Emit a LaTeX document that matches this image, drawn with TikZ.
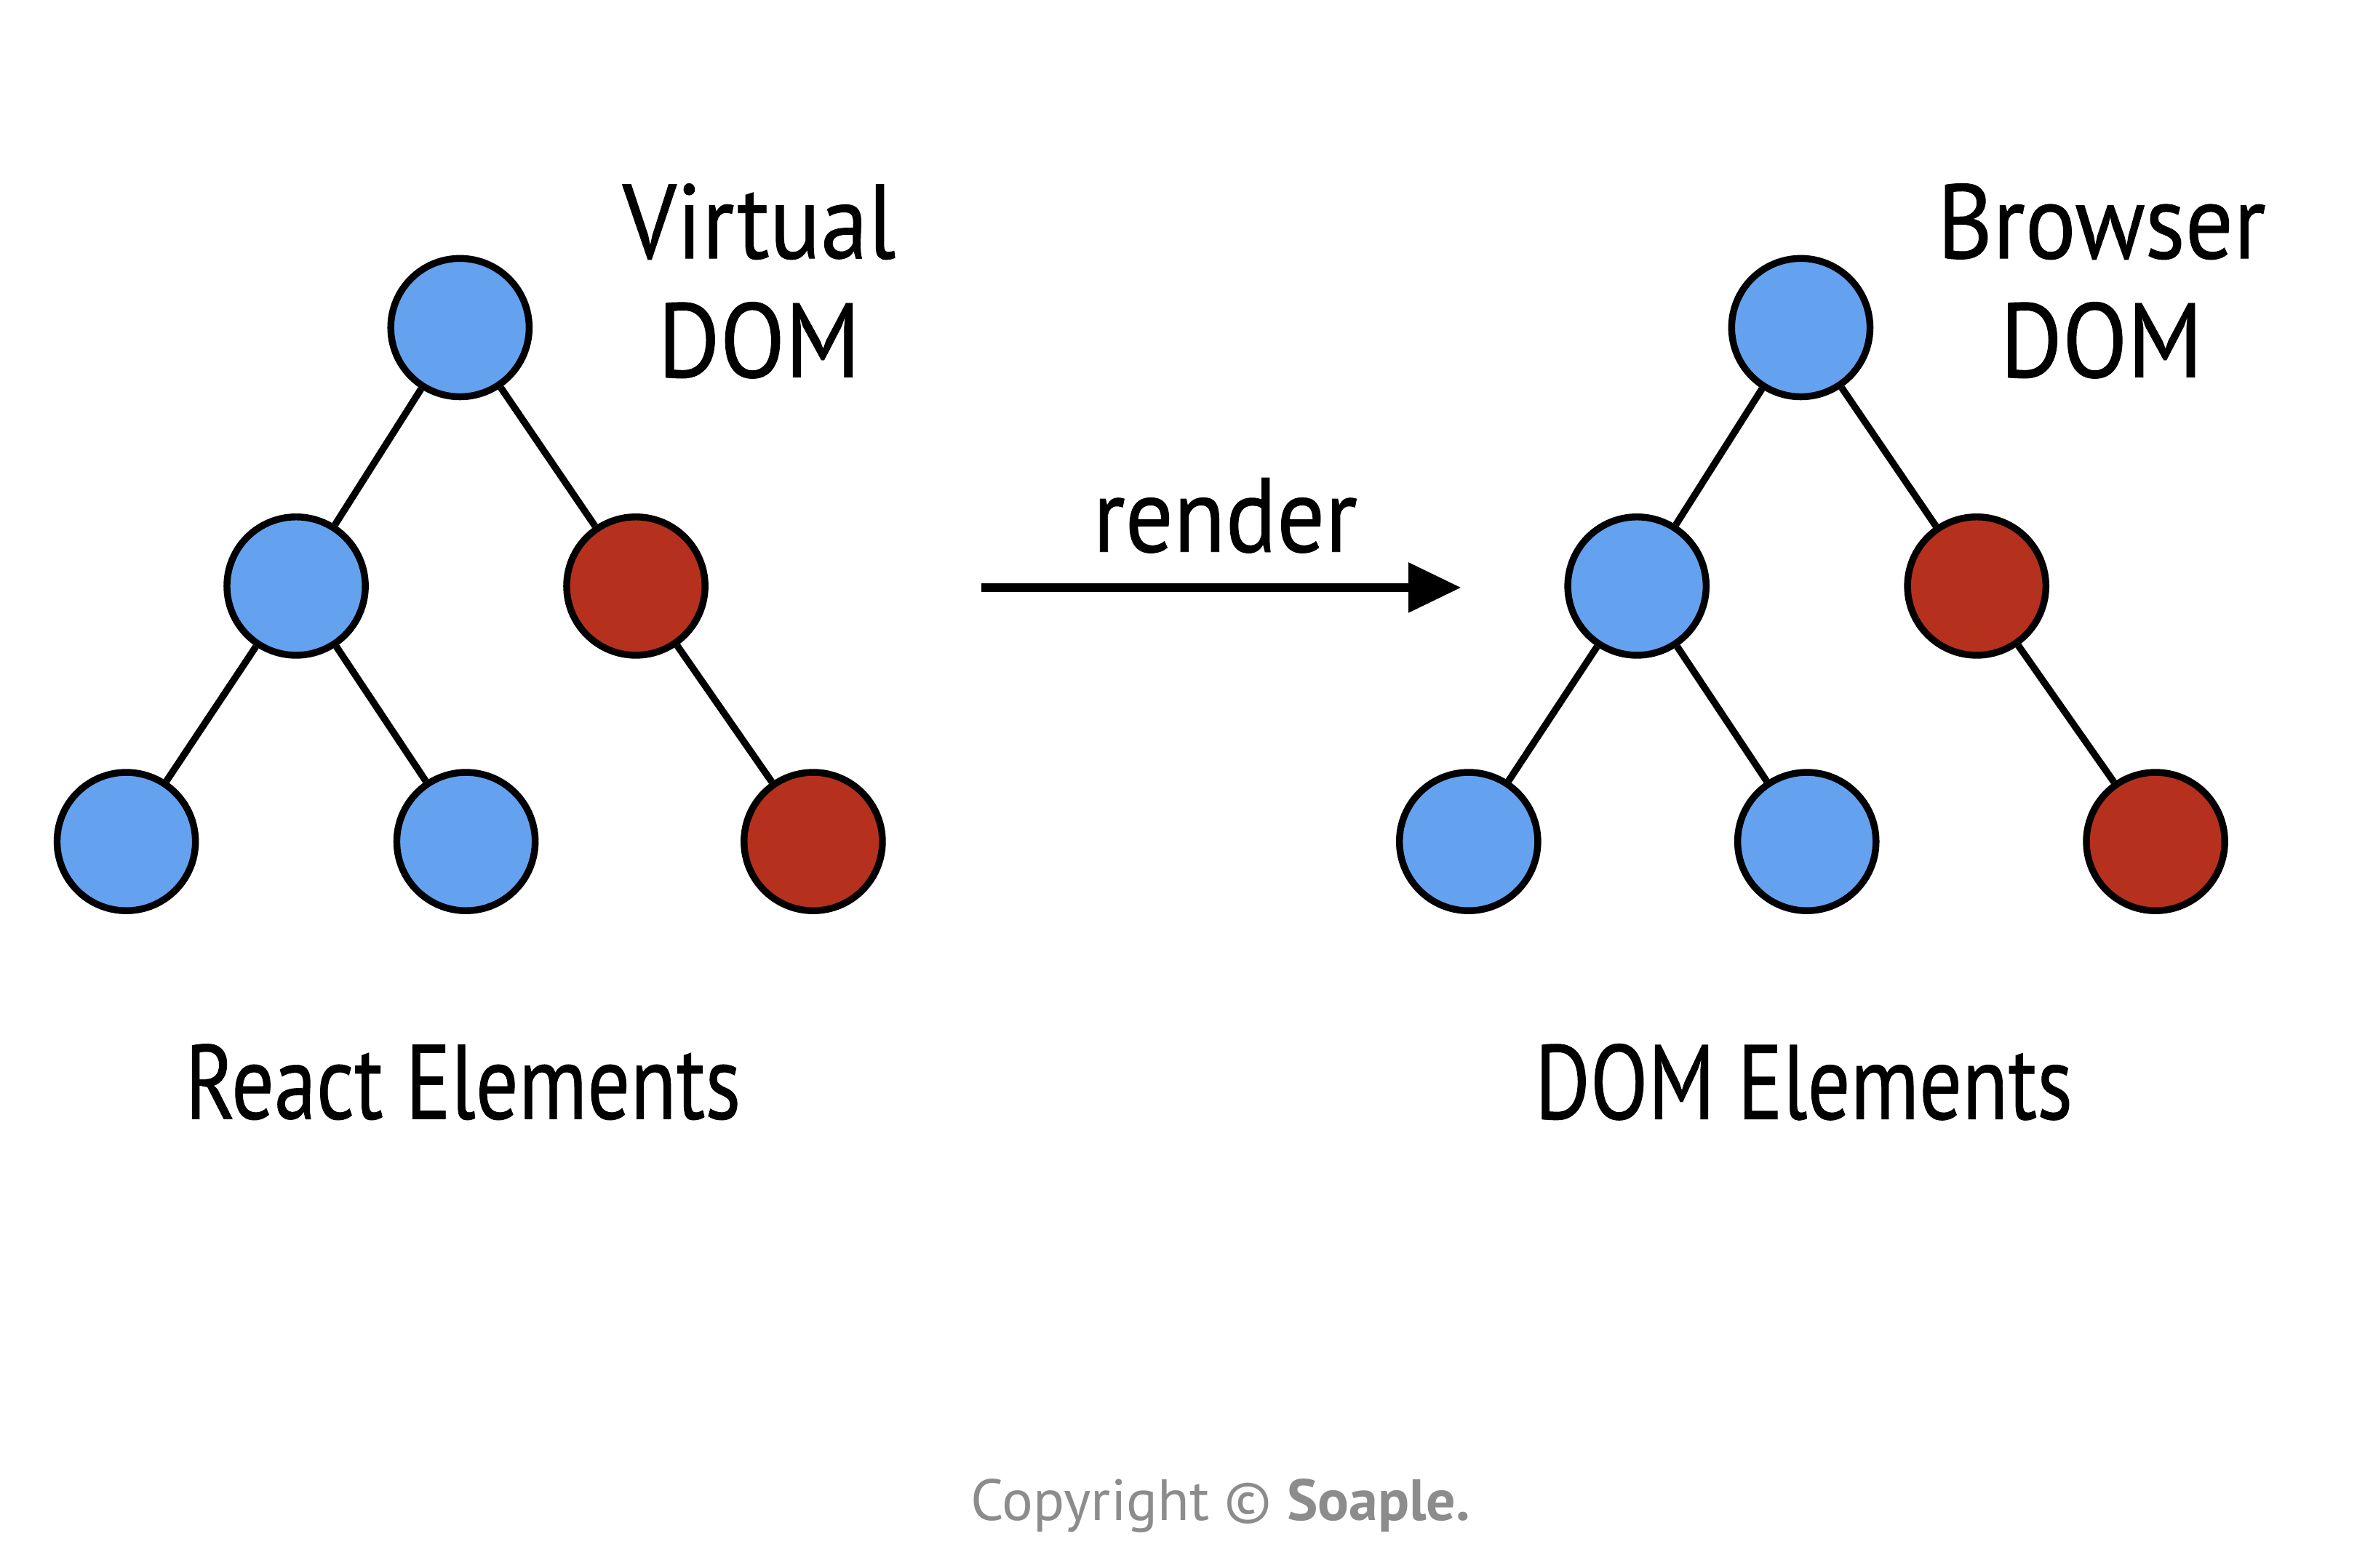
\documentclass[tikz,border=0pt]{standalone}
\usepackage{fontspec}
\setmainfont{PT Sans}
\newfontfamily\titlefont[FakeStretch=0.9, FakeBold=0.6]{PT Sans}
\newfontfamily\labelfont[FakeStretch=0.8, FakeBold=0.6]{PT Sans}
\usetikzlibrary{arrows.meta}
\usetikzlibrary{positioning}
\definecolor{elblue}{HTML}{64A2F0}
\definecolor{elred}{HTML}{B5311E}
\tikzset{
  elem/.style={circle, draw=black, line width=1.3pt, minimum size=0.92cm, inner sep=0pt},
  blue elem/.style={elem, fill=elblue},
  red elem/.style={elem, fill=elred},
  edge/.style={line width=1.3pt},
  title/.style={font=\titlefont\fontsize{20}{22.5}\selectfont, align=center},
  label/.style={font=\labelfont\fontsize{20}{22.5}\selectfont}
}
\begin{document}
\begin{tikzpicture}[x=0.01cm, y=-0.01cm]
  \useasboundingbox (0,0) rectangle (1568,1043);
  \fill[white] (0,0) rectangle (1568,1043);

  % left tree
  \node [blue elem] (vroot) at (306,218) {};
  \node [blue elem] (vl) at (197,390) {};
  \node [red elem] (vr) at (423,390) {};
  \node [blue elem] (vll) at (84,560) {};
  \node [blue elem] (vlr) at (310,560) {};
  \node [red elem] (vrr) at (541,560) {};
  \draw [edge] (vroot) -- (vl);
  \draw [edge] (vroot) -- (vr);
  \draw [edge] (vl) -- (vll);
  \draw [edge] (vl) -- (vlr);
  \draw [edge] (vr) -- (vrr);
  \node [title] (vtitle) at (505,187) {Virtual\\DOM};
  \node [label] (vlabel) at (308,720) {React Elements};

  % right tree
  \node [blue elem] (broot) at (1198,218) {};
  \node [blue elem] (bl) at (1089,390) {};
  \node [red elem] (br) at (1315,390) {};
  \node [blue elem] (bll) at (977,560) {};
  \node [blue elem] (blr) at (1202,560) {};
  \node [red elem] (brr) at (1434,560) {};
  \draw [edge] (broot) -- (bl);
  \draw [edge] (broot) -- (br);
  \draw [edge] (bl) -- (bll);
  \draw [edge] (bl) -- (blr);
  \draw [edge] (br) -- (brr);
  \node [title] (btitle) at (1398,187) {Browser\\DOM};
  \node [label] (blabel) at (1200,720) {DOM Elements};

  % render arrow
  \coordinate (from) at (653,391);
  \coordinate (to) at (972,391);
  \draw [-{Triangle[length=0.35cm,width=0.32cm]}, line width=1.6pt] (from) -- (to);
  \node [title] (render) at (815,343) {render};

  \node [font=\fontsize{11}{13}\selectfont, text=black!45] (copy) at (812,1002) {Copyright \textcopyright\ \textbf{Soaple.}};
\end{tikzpicture}
\end{document}
